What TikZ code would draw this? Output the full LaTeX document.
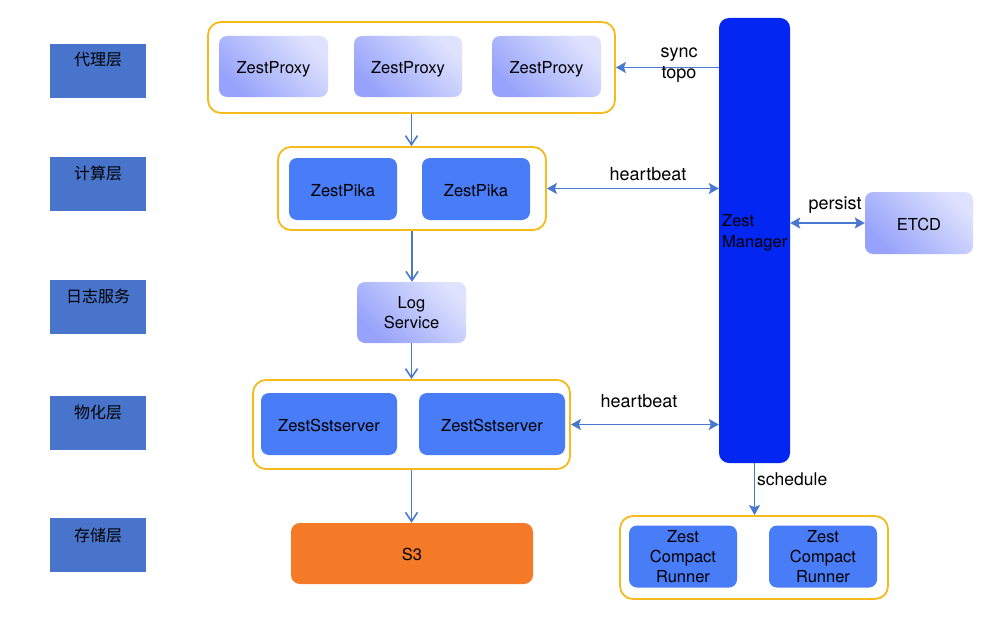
\documentclass[tikz,border=0pt]{standalone}
\usepackage{fontspec}
\setmainfont{TeX Gyre Heros}
\newfontfamily\cjk{Noto Sans CJK SC}
\usetikzlibrary{arrows.meta}
\definecolor{layerblue}{RGB}{72,116,203}
\definecolor{frameyellow}{RGB}{245,186,28}
\definecolor{boxblue}{RGB}{73,124,247}
\definecolor{graddark}{RGB}{150,162,251}
\definecolor{gradlight}{RGB}{222,226,254}
\definecolor{mgrblue}{RGB}{4,38,242}
\definecolor{s3orange}{RGB}{244,122,40}
\definecolor{arrowblue}{RGB}{74,120,207}
\tikzset{
  layerbox/.style={fill=layerblue, draw=none, minimum width=96pt, minimum height=54pt, inner sep=0pt},
  layertext/.style={font=\cjk\fontsize{16}{18}\selectfont, inner sep=0pt},
  frame/.style={draw=frameyellow, line width=1.8pt, rounded corners=13pt, fill=white, inner sep=0pt},
  gradbox/.style={draw=none, rounded corners=8pt, bottom color=graddark, top color=gradlight, shading angle=-45, align=center, inner sep=0pt},
  bluebox/.style={fill=boxblue, draw=none, rounded corners=8pt, align=center, inner sep=0pt},
  oneline/.style={text height=14pt, text depth=0pt},
  varrow/.style={draw=arrowblue, line width=1.7pt, -{Straight Barb[length=9pt,width=12pt,line width=1.6pt]}},
  harrow/.style={draw=arrowblue, line width=1.8pt, -{Stealth[length=10pt,width=11pt,inset=2pt]}},
  darrow/.style={draw=arrowblue, line width=1.8pt, {Stealth[length=10pt,width=11pt,inset=2pt]}-{Stealth[length=10pt,width=11pt,inset=2pt]}},
  lbl/.style={inner sep=0pt, align=center},
  edgelbl/.style={inner sep=0pt, align=center, font=\fontsize{18}{21}\selectfont}
}
\begin{document}
\begin{tikzpicture}[x=1pt,y=-1pt,font=\fontsize{16.5}{20.5}\selectfont]
\useasboundingbox (0,0) rectangle (993,618);
\fill[white] (0,0) rectangle (993,618);

% layer labels
\node[layerbox] (l1) at (98,71) {};
\node[layertext] (l1t) at (98,60) {代理层};
\node[layerbox] (l2) at (98,184) {};
\node[layertext] (l2t) at (98,173) {计算层};
\node[layerbox] (l3) at (98,306.5) {};
\node[layertext] (l3t) at (98,296) {日志服务};
\node[layerbox] (l4) at (98,422.5) {};
\node[layertext] (l4t) at (98,412) {物化层};
\node[layerbox] (l5) at (98,544.5) {};
\node[layertext] (l5t) at (98,535) {存储层};

% containers
\node[frame, minimum width=407pt, minimum height=91pt] (c1) at (411.5,67.5) {};
\node[frame, minimum width=268pt, minimum height=83pt] (c2) at (412,188.5) {};
\node[frame, minimum width=317pt, minimum height=89pt] (c3) at (411.5,424.5) {};
\node[frame, minimum width=268pt, minimum height=83pt] (c4) at (754,557.5) {};

% proxies
\node[gradbox, oneline, minimum width=109pt, minimum height=61pt] (p1) at (273.5,66.5) {ZestProxy};
\node[gradbox, oneline, minimum width=108pt, minimum height=61pt] (p2) at (408,66.5) {ZestProxy};
\node[gradbox, oneline, minimum width=109pt, minimum height=61pt] (p3) at (546.5,66.5) {ZestProxy};

% pika
\node[bluebox, oneline, minimum width=108pt, minimum height=62pt] (k1) at (343,189) {ZestPika};
\node[bluebox, oneline, minimum width=108pt, minimum height=62pt] (k2) at (476,189) {ZestPika};

% log service
\node[gradbox, minimum width=109pt, minimum height=61pt] (log) at (411.5,312.5) {Log\\Service};

% sst
\node[bluebox, oneline, minimum width=136pt, minimum height=62pt] (s1) at (329,424) {ZestSstserver};
\node[bluebox, oneline, minimum width=146pt, minimum height=62pt] (s2) at (492,424) {ZestSstserver};

% S3
\node[fill=s3orange, draw=none, rounded corners=9pt, oneline, minimum width=242pt, minimum height=61pt, inner sep=0pt] (s3) at (412,553.5) {S3};

% manager
\node[fill=mgrblue, draw=none, rounded corners=10pt, minimum width=71pt, minimum height=445pt, inner sep=0pt] (mgr) at (754.5,240.5) {};
\node[lbl, anchor=west, align=left] (mgrt) at (722,233) {Zest\\Manager};

% etcd
\node[gradbox, oneline, minimum width=108pt, minimum height=62pt] (etcd) at (919,223) {ETCD};

% runners
\node[bluebox, minimum width=108pt, minimum height=62pt, font=\fontsize{16.5}{20}\selectfont] (r1) at (683,556.5) {Zest\\Compact\\Runner};
\node[bluebox, minimum width=108pt, minimum height=62pt, font=\fontsize{16.5}{20}\selectfont] (r2) at (823,556.5) {Zest\\Compact\\Runner};

% vertical arrows
\draw[varrow] (c1.south) -- (c1.south |- c2.north);
\draw[varrow] (c2.south) -- (c2.south |- log.north);
\draw[varrow] (log.south) -- (log.south |- c3.north);
\draw[varrow] (c3.south) -- (c3.south |- s3.north);

% horizontal arrows
\draw[harrow] (mgr.west |- c1.east) -- (c1.east);
\draw[darrow] (c2.east) -- (mgr.west |- c2.east);
\draw[darrow] (c3.east) -- (mgr.west |- c3.east);
\draw[darrow] (mgr.east |- etcd.west) -- (etcd.west);
\draw[harrow] (mgr.south) -- (mgr.south |- c4.north);

% labels
\node[edgelbl] (synct) at (679,65.5) {sync\\topo};
\node[edgelbl] (hb1) at (648,174) {heartbeat};
\node[edgelbl] (hb2) at (639,401) {heartbeat};
\node[edgelbl] (pers) at (835,205) {persist};
\node[edgelbl, anchor=west, font=\fontsize{17.5}{21}\selectfont] (sched) at (757,479) {schedule};
\end{tikzpicture}
\end{document}
